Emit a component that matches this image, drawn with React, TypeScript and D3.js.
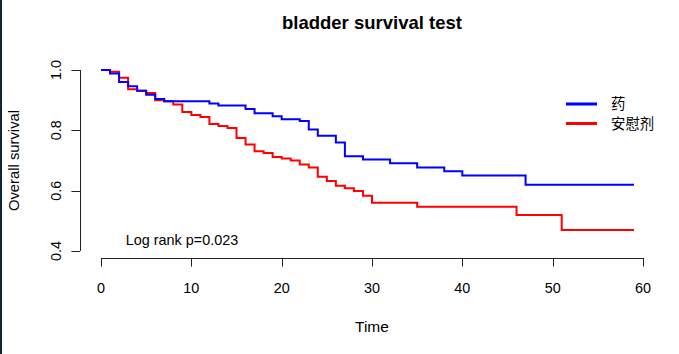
import React from "react";
import * as d3 from "d3";

const drugTimes = [0, 1, 2, 3, 4, 5, 6, 7, 12, 13, 16, 17, 19, 20, 22, 23, 24, 26, 27, 29, 32, 35, 38, 40, 47, 59];
const drugSurv = [1.0, 0.988, 0.96, 0.946, 0.931, 0.918, 0.904, 0.896, 0.889, 0.882, 0.871, 0.857, 0.847, 0.837, 0.831, 0.803, 0.782, 0.76, 0.714, 0.703, 0.691, 0.677, 0.664, 0.65, 0.62, 0.62];

const placeboTimes = [0, 1, 2, 3, 4, 5, 6, 7, 8, 9, 10, 11, 12, 13, 14, 15, 16, 17, 18, 19, 20, 21, 22, 23, 24, 25, 26, 27, 28, 29, 30, 35, 46, 51, 59];
const placeboSurv = [1.0, 0.994, 0.974, 0.936, 0.931, 0.924, 0.9, 0.896, 0.886, 0.861, 0.851, 0.844, 0.821, 0.814, 0.808, 0.775, 0.753, 0.731, 0.725, 0.712, 0.707, 0.7, 0.687, 0.677, 0.646, 0.632, 0.616, 0.608, 0.599, 0.583, 0.56, 0.547, 0.519, 0.47, 0.47];

const xTicks = [0, 10, 20, 30, 40, 50, 60];
const yTicks = [0.4, 0.6, 0.8, 1.0];
const seriesNames = ["药", "安慰剂"];
const seriesColors = ["#0000ff", "#ff0000"];

const FONT = "'Liberation Sans', Arial, Helvetica, sans-serif";
const CJK = "'Liberation Sans', 'Noto Sans CJK SC', sans-serif";

export default function App() {
  const W = 679, H = 354;
  const x = d3.scaleLinear().domain([0, 60]).range([101, 643]);
  const y = d3.scaleLinear().domain([0.4, 1.0]).range([251, 70]);
  const axisY = 258; // bottom of plot region
  const axisX = 80; // left of plot region
  const plotCenterX = (79.3 + 664.6) / 2;

  const line = d3
    .line<[number, number]>()
    .x((d) => x(d[0]))
    .y((d) => y(d[1]))
    .curve(d3.curveStepAfter);

  const drugPts = drugTimes.map((t, i) => [t, drugSurv[i]] as [number, number]);
  const placeboPts = placeboTimes.map((t, i) => [t, placeboSurv[i]] as [number, number]);

  const axisColor = "#222";

  return (
    <svg
      width={W}
      height={H}
      style={{ position: "absolute", left: 0, top: 0, background: "#fff" }}
      fontFamily={FONT}
    >
      <rect x={0} y={0} width={W} height={H} fill="#fff" />
      <rect x={0} y={0} width={2} height={H} fill="#0f2638" />

      {/* title */}
      <text x={plotCenterX} y={29} textAnchor="middle" fontSize={18.5} fontWeight="bold" fill="#000">
        bladder survival test
      </text>

      {/* curves */}
      <path d={line(placeboPts) || ""} fill="none" stroke={seriesColors[1]} strokeWidth={2} />
      <path d={line(drugPts) || ""} fill="none" stroke={seriesColors[0]} strokeWidth={2} />

      {/* x axis */}
      <line x1={x(0)} x2={x(60)} y1={axisY + 0.5} y2={axisY + 0.5} stroke={axisColor} strokeWidth={1} />
      {xTicks.map((t) => (
        <g key={"xt" + t}>
          <line x1={Math.round(x(t)) + 0.5} x2={Math.round(x(t)) + 0.5} y1={axisY} y2={axisY + 8.6} stroke={axisColor} strokeWidth={1} />
          <text x={x(t)} y={293} textAnchor="middle" fontSize={14.4} fill="#000">
            {t}
          </text>
        </g>
      ))}
      <text x={plotCenterX} y={331.5} textAnchor="middle" fontSize={15.5} fill="#000">
        Time
      </text>

      {/* y axis */}
      <line x1={axisX + 0.5} x2={axisX + 0.5} y1={y(0.4)} y2={y(1.0)} stroke={axisColor} strokeWidth={1} />
      {yTicks.map((v) => (
        <g key={"yt" + v}>
          <line x1={axisX - 8.6} x2={axisX} y1={Math.round(y(v)) + 0.5} y2={Math.round(y(v)) + 0.5} stroke={axisColor} strokeWidth={1} />
          <text
            transform={`translate(61, ${y(v)}) rotate(-90)`}
            textAnchor="middle"
            fontSize={14.4}
            fill="#000"
          >
            {v.toFixed(1)}
          </text>
        </g>
      ))}
      <text transform={`translate(19, 160.5) rotate(-90)`} textAnchor="middle" fontSize={14.8} fill="#000">
        Overall survival
      </text>

      {/* log rank */}
      <text x={182} y={245} textAnchor="middle" fontSize={14.4} fill="#000">
        Log rank p=0.023
      </text>

      {/* legend */}
      {seriesNames.map((n, i) => (
        <g key={"lg" + i}>
          <line x1={566} x2={597} y1={104 + i * 19.5} y2={104 + i * 19.5} stroke={seriesColors[i]} strokeWidth={3} />
          <text x={611} y={104 + i * 19.5} dominantBaseline="central" fontSize={14.4} fontFamily={CJK} fill="#000">
            {n}
          </text>
        </g>
      ))}
    </svg>
  );
}
